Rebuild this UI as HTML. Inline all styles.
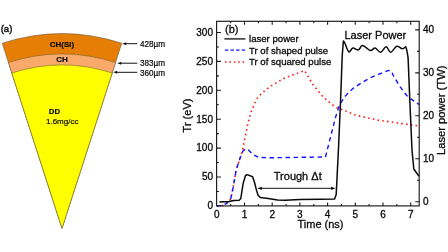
<!DOCTYPE html>
<html><head><meta charset="utf-8"><title>Figure</title>
<style>
html,body{margin:0;padding:0;background:#fff;}
svg{display:block;}
text{font-family:"Liberation Sans",sans-serif;fill:#0a0a0a;stroke:#0a0a0a;stroke-width:0.3px;}
.b{font-weight:bold;}
.s text,.s{stroke-width:0.2px;}
</style></head><body>
<svg width="448" height="252" viewBox="0 0 448 252">
<rect width="448" height="252" fill="#fff"/>
<!-- panel a -->
<path d="M62.00,228.30 L2.22,43.21 A194.50,194.50 0 0 1 121.78,43.21 Z" fill="#e67e05" stroke="#6b5a3a" stroke-width="0.6"/>
<path d="M62.00,228.30 L8.46,62.53 A174.20,174.20 0 0 1 115.54,62.53 Z" fill="#f9aa6a" stroke="#6b5a3a" stroke-width="0.5"/>
<path d="M62.00,228.30 L11.84,73.00 A163.20,163.20 0 0 1 112.16,73.00 Z" fill="#ffff00" stroke="#77702a" stroke-width="0.6"/>
<text x="0.7" y="31.6" font-size="9.5" style="stroke-width:0.4px">(a)</text>
<g class="s"><text class="b" x="61.9" y="46.8" font-size="8" text-anchor="middle">CH(Si)</text>
<text class="b" x="62" y="62.2" font-size="8" text-anchor="middle">CH</text>
<text class="b" x="54.5" y="114.2" font-size="7.8" text-anchor="middle">DD</text>
<text x="46" y="124" font-size="8">1.6mg/cc</text>
<path d="M125.7,43.7 H137.3" stroke="#111" stroke-width="1" fill="none"/><path d="M122.4,43.7 L126.2,42.2 L126.2,45.2 Z" fill="#111"/>
<path d="M120.7,63.2 H137.3" stroke="#111" stroke-width="1" fill="none"/><path d="M117.4,63.2 L121.2,61.7 L121.2,64.7 Z" fill="#111"/>
<path d="M116.6,72.3 H137.3" stroke="#111" stroke-width="1" fill="none"/><path d="M113.3,72.3 L117.1,70.8 L117.1,73.8 Z" fill="#111"/>
<text x="139.9" y="47.2" font-size="8.2">428µm</text>
<text x="139.9" y="66.4" font-size="8.2">383µm</text>
<text x="139.9" y="76.2" font-size="8.2">360µm</text></g>
<!-- panel b -->
<polyline points="217.0,206.0 222.8,205.5 226.7,203.2 230.6,199.2 233.0,188.3 236.1,170.3 240.1,158.0 242.3,151.2 246.5,131.0 248.0,122.9 249.6,117.3 250.7,112.8 252.5,108.4 254.7,103.2 257.4,98.3 261.2,93.9 265.9,89.8 270.8,86.0 275.3,83.4 280.2,80.5 285.3,77.8 304.6,70.5 312.3,83.9 322.5,96.2 327.9,101.1 335.9,107.3 342.7,109.8 355.8,115.2 378.1,120.1 398.2,123.0 417.2,125.7" fill="none" stroke="#ff1a1a" stroke-width="1.6" stroke-dasharray="1.6 3.2"/>
<polyline points="217.0,206.0 222.8,205.5 226.7,203.2 230.6,199.2 233.0,188.3 236.1,170.3 240.1,158.0 243.0,151.0 245.7,148.8 248.5,150.0 253.0,154.5 258.5,157.3 270.0,157.8 300.0,157.3 325.5,157.0 329.0,143.0 335.7,116.7 339.7,104.5 344.8,96.7 348.0,93.1 353.4,88.1 361.2,83.1 369.8,78.0 378.4,74.4 387.8,70.6 390.4,70.5 391.7,71.7 393.3,75.5 396.7,81.1 400.0,86.7 403.3,91.1 406.7,95.5 411.0,98.9 415.5,102.2 419.0,104.5" fill="none" stroke="#1010ff" stroke-width="1.4" stroke-dasharray="4.5 3.5"/>
<path d="M219.4,202.1 L229.1,201.6 L233.8,200.5 L239.2,200.3 L240.8,198.5 L243.1,183.6 L245.5,175.5 L247.0,174.6 L250.2,175.8 L252.5,176.6 L254.4,182.0 L256.4,189.9 L258.0,195.3 L260.3,197.4 L268.1,198.5 L277.5,200.0 L285.0,200.3 L300.0,199.6 L320.0,199.3 L334.6,198.9 L336.2,194.6 L338.4,150.0 L340.6,100.0 L342.2,56.0 L343.4,40.9 C343.7,41.4 344.0,41.5 345.0,43.5 C346.0,45.5 347.3,51.0 348.8,51.8 C350.2,52.6 351.1,48.4 352.9,48.1 C354.7,47.8 356.9,50.4 358.5,49.9 C360.1,49.4 360.5,46.1 361.8,45.6 C363.1,45.1 364.1,46.4 365.7,47.3 C367.3,48.2 369.0,50.5 370.7,50.6 C372.4,50.7 373.4,47.8 375.2,48.1 C377.0,48.4 378.6,52.6 380.6,52.3 C382.6,52.0 384.4,46.7 386.2,46.7 C388.0,46.7 388.7,52.4 390.6,52.3 C392.5,52.2 394.7,46.8 396.8,46.2 C398.9,45.6 400.7,48.7 402.3,48.8 C403.9,48.8 405.1,47.1 405.7,46.7 L406.8,50.0 L408.1,57.9 L409.8,100.0 L412.0,150.0 L413.8,169.0 L419.0,176.3" fill="none" stroke="#0a0a0a" stroke-width="1.5" stroke-linejoin="round"/>
<rect x="216.6" y="21.3" width="202.6" height="184.6" fill="none" stroke="#1a1a1a" stroke-width="1.15"/>
<path d="M230.65,205.9 v-1.9 M230.65,21.3 v1.9 M244.50,205.9 v-3.4 M244.50,21.3 v3.4 M258.35,205.9 v-1.9 M258.35,21.3 v1.9 M272.20,205.9 v-3.4 M272.20,21.3 v3.4 M286.05,205.9 v-1.9 M286.05,21.3 v1.9 M299.90,205.9 v-3.4 M299.90,21.3 v3.4 M313.75,205.9 v-1.9 M313.75,21.3 v1.9 M327.60,205.9 v-3.4 M327.60,21.3 v3.4 M341.45,205.9 v-1.9 M341.45,21.3 v1.9 M355.30,205.9 v-3.4 M355.30,21.3 v3.4 M369.15,205.9 v-1.9 M369.15,21.3 v1.9 M383.00,205.9 v-3.4 M383.00,21.3 v3.4 M396.85,205.9 v-1.9 M396.85,21.3 v1.9 M410.70,205.9 v-3.4 M410.70,21.3 v3.4 M216.6,191.45 h2.3 M216.6,177.00 h4.3 M216.6,162.55 h2.3 M216.6,148.10 h4.3 M216.6,133.65 h2.3 M216.6,119.20 h4.3 M216.6,104.75 h2.3 M216.6,90.30 h4.3 M216.6,75.85 h2.3 M216.6,61.40 h4.3 M216.6,46.95 h2.3 M216.6,32.50 h4.3 M419.2,201.70 h-4.0 M419.2,180.22 h-2.2 M419.2,158.75 h-4.0 M419.2,137.27 h-2.2 M419.2,115.80 h-4.0 M419.2,94.32 h-2.2 M419.2,72.85 h-4.0 M419.2,51.38 h-2.2 M419.2,29.90 h-4.0" stroke="#1a1a1a" stroke-width="1.1" fill="none"/>
<g font-size="10"><text x="216.8" y="218.3" text-anchor="middle">0</text><text x="244.5" y="218.3" text-anchor="middle">1</text><text x="272.2" y="218.3" text-anchor="middle">2</text><text x="299.9" y="218.3" text-anchor="middle">3</text><text x="327.6" y="218.3" text-anchor="middle">4</text><text x="355.3" y="218.3" text-anchor="middle">5</text><text x="383.0" y="218.3" text-anchor="middle">6</text><text x="410.7" y="218.3" text-anchor="middle">7</text><text x="213" y="209.2" text-anchor="end">0</text><text x="213" y="180.3" text-anchor="end">50</text><text x="213" y="151.4" text-anchor="end">100</text><text x="213" y="122.5" text-anchor="end">150</text><text x="213" y="93.6" text-anchor="end">200</text><text x="213" y="64.7" text-anchor="end">250</text><text x="213" y="35.8" text-anchor="end">300</text><text x="423" y="204.7">0</text><text x="423" y="161.8">10</text><text x="423" y="118.8">20</text><text x="423" y="75.8">30</text><text x="423" y="32.9">40</text></g>
<text x="225" y="33.3" font-size="11">(b)</text>
<path d="M224.4,38.9 H245.4" stroke="#0a0a0a" stroke-width="1.3"/>
<path d="M224.9,50.1 H245.4" stroke="#1010ff" stroke-width="1.4" stroke-dasharray="3.4 2.2"/>
<path d="M224.9,62 H246" stroke="#ff1a1a" stroke-width="1.6" stroke-dasharray="1.6 2.8"/>
<g font-size="9.6"><text x="249" y="42.3">laser power</text><text x="249" y="53.5">Tr of shaped pulse</text><text x="249" y="65">Tr of squared pulse</text></g>
<text x="344.5" y="38.8" font-size="11">Laser Power</text>
<text x="273.8" y="179.6" font-size="11">Trough Δt</text>
<path d="M261,188.3 H332" stroke="#111" stroke-width="1" fill="none"/>
<path d="M257.2,188.3 l4.7,-1.6 v3.2 Z" fill="#111"/>
<path d="M335.7,188.3 l-4.7,-1.6 v3.2 Z" fill="#111"/>
<text x="320.5" y="228.4" font-size="11" text-anchor="middle">Time (ns)</text>
<text transform="translate(191.2,115.5) rotate(-90)" font-size="11" text-anchor="middle">Tr (eV)</text>
<text transform="translate(445.2,110.3) rotate(-90)" font-size="11.2" text-anchor="middle">Laser power (TW)</text>
</svg>
</body></html>
